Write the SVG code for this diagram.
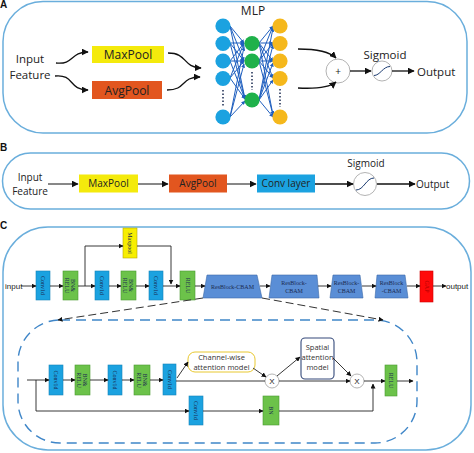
<svg xmlns="http://www.w3.org/2000/svg" width="474" height="453" viewBox="0 0 474 453">
<defs>
<marker id="ah" viewBox="0 0 10 10" refX="9" refY="5" markerWidth="7" markerHeight="7" markerUnits="userSpaceOnUse" orient="auto"><path d="M0,0 L10,5 L0,10 z" fill="#111"/></marker>
<marker id="as" viewBox="0 0 10 10" refX="9" refY="5" markerWidth="5" markerHeight="5" markerUnits="userSpaceOnUse" orient="auto"><path d="M0,0 L10,5 L0,10 z" fill="#111"/></marker>
<marker id="ab" viewBox="0 0 10 10" refX="9" refY="5" markerWidth="4" markerHeight="4" markerUnits="userSpaceOnUse" orient="auto"><path d="M0,0 L10,5 L0,10 z" fill="#1f5fbf"/></marker>
<style>
.panel{fill:#fff;stroke:#6aaedc;stroke-width:1.5}
.lbl{font-family:"Liberation Sans",Arial,sans-serif;font-weight:bold;font-size:10px;fill:#111}
.t{font-family:"Open Sans","Noto Sans",sans-serif;fill:#222}
.a12{font-size:12px}
.a10{font-size:10px}
.c{text-anchor:middle}
.yel{fill:#f4ea0c}
.org{fill:#e2561f}
.cyan{fill:#1ba2e0}
.arr{fill:none;stroke:#111;stroke-width:1.3;marker-end:url(#ah)}
.sarr{fill:none;stroke:#222;stroke-width:0.9;marker-end:url(#as)}
.sline{fill:none;stroke:#222;stroke-width:0.9}
.bl{fill:#1ba2e0;stroke:#1484b8;stroke-width:0.6}
.gr{fill:#6cc24a;stroke:#4a9a30;stroke-width:0.6}
.ye{fill:#f7ee00;stroke:#b8a800;stroke-width:0.6}
.rd{fill:#ff0a0a;stroke:#c00;stroke-width:0.6}
.trap{fill:#5a8ed6;stroke:#3d6aa8;stroke-width:0.6}
.st{font-family:"Liberation Serif","Times New Roman",serif;font-size:6px;fill:#1a2a50;text-anchor:middle}
.ss{font-family:"Liberation Sans",Arial,sans-serif;font-size:8px;fill:#222}
.nin{fill:#1ba2e0}
.ngr{fill:#1fb14a}
.nor{fill:#f5b81c}
.mlp{stroke:#1f5fbf;stroke-width:1;marker-end:url(#ab)}
.dots{stroke:#1a2a50;stroke-width:1.5;stroke-dasharray:1.5 2}
.circ{fill:#fff;stroke:#aaa;stroke-width:0.9}
.sig{fill:none;stroke:#1a3a70;stroke-width:1}
.attn{font-family:"Open Sans","Noto Sans",sans-serif;font-size:7.5px;fill:#333;text-anchor:middle}
</style>
</defs>

<!-- Panel A -->
<g id="panelA">
<rect class="panel" x="3" y="1.5" width="464" height="131.5" rx="40"/>
<text class="lbl" x="0" y="8">A</text>
</g>
<g id="A-input"><text class="t c" font-size="11.5" x="30" y="63">Input</text><text class="t c" font-size="11.5" x="30" y="79">Feature</text></g>
<g id="A-maxpool"><rect class="yel" x="92" y="46" width="72" height="17"/><text class="t a12 c" x="128" y="59">MaxPool</text></g>
<g id="A-avgpool"><rect class="org" x="92" y="81" width="70" height="18"/><text class="t a12 c" x="127" y="94.5">AvgPool</text></g>
<g id="A-mlp">
<text class="t a12 c" x="253" y="14.5">MLP</text>
<g>
<line class="mlp" x1="230" y1="26" x2="244" y2="43"/><line class="mlp" x1="230" y1="26" x2="244" y2="61"/><line class="mlp" x1="230" y1="26" x2="245" y2="99"/>
<line class="mlp" x1="230" y1="43" x2="244" y2="43"/><line class="mlp" x1="230" y1="43" x2="244" y2="61"/><line class="mlp" x1="230" y1="43" x2="245" y2="99"/>
<line class="mlp" x1="230" y1="61" x2="244" y2="43"/><line class="mlp" x1="230" y1="61" x2="244" y2="61"/><line class="mlp" x1="230" y1="61" x2="245" y2="99"/>
<line class="mlp" x1="230" y1="78" x2="244" y2="43"/><line class="mlp" x1="230" y1="78" x2="244" y2="61"/><line class="mlp" x1="230" y1="78" x2="245" y2="99"/>
<line class="mlp" x1="230" y1="117" x2="244" y2="47"/><line class="mlp" x1="230" y1="117" x2="244" y2="64"/><line class="mlp" x1="230" y1="117" x2="245" y2="101"/>
<line class="mlp" x1="259" y1="43" x2="273" y2="26"/><line class="mlp" x1="259" y1="43" x2="273" y2="43"/><line class="mlp" x1="259" y1="43" x2="273" y2="61"/><line class="mlp" x1="259" y1="43" x2="273" y2="78"/><line class="mlp" x1="259" y1="43" x2="273" y2="115"/>
<line class="mlp" x1="259" y1="61" x2="273" y2="26"/><line class="mlp" x1="259" y1="61" x2="273" y2="43"/><line class="mlp" x1="259" y1="61" x2="273" y2="61"/><line class="mlp" x1="259" y1="61" x2="273" y2="78"/><line class="mlp" x1="259" y1="61" x2="273" y2="115"/>
<line class="mlp" x1="259" y1="100" x2="273" y2="28"/><line class="mlp" x1="259" y1="100" x2="273" y2="45"/><line class="mlp" x1="259" y1="100" x2="273" y2="63"/><line class="mlp" x1="259" y1="100" x2="273" y2="80"/><line class="mlp" x1="259" y1="100" x2="273" y2="117"/>
</g>
<circle class="nin" cx="223" cy="26" r="7.6"/><circle class="nin" cx="223" cy="43.5" r="7.6"/><circle class="nin" cx="223" cy="61" r="7.6"/><circle class="nin" cx="223" cy="78.5" r="7.6"/><circle class="nin" cx="223" cy="117" r="7.6"/>
<line class="dots" x1="223" y1="90" x2="223" y2="107"/>
<circle class="ngr" cx="252" cy="43.5" r="7.6"/><circle class="ngr" cx="252" cy="61" r="7.6"/><circle class="ngr" cx="252" cy="100" r="7.6"/>
<line class="dots" x1="252" y1="72" x2="252" y2="90"/>
<circle class="nor" cx="280" cy="26" r="7.6"/><circle class="nor" cx="280" cy="43.5" r="7.6"/><circle class="nor" cx="280" cy="61" r="7.6"/><circle class="nor" cx="280" cy="78.5" r="7.6"/><circle class="nor" cx="280" cy="117" r="7.6"/>
<line class="dots" x1="280" y1="89" x2="280" y2="107"/>
</g>
<g id="A-plus"><circle class="circ" cx="338" cy="71" r="12"/><text class="t c" font-size="10" x="338" y="74.5">+</text></g>
<g id="A-sigmoid"><circle class="circ" cx="382" cy="71" r="10"/><path class="sig" d="M374,75.5 C380,75.5 383,66.5 390,66.5"/><text class="t c" font-size="11.5" x="385" y="59">Sigmoid</text></g>
<g id="A-output"><text class="t" font-size="11.5" x="417" y="75.5">Output</text></g>
<g id="A-connectors">
<path class="arr" d="M56,63 C74,65 70,52 88,52"/>
<path class="arr" d="M55,76 C75,74 68,90 88,90"/>
<path class="arr" d="M168,53 C188,53 182,67 201,68"/>
<path class="arr" d="M167,90 C187,90 180,77 200,77"/>
<path class="arr" d="M298,49 C318,49 330,52 336,58"/>
<path class="arr" d="M298,88 C318,89 330,87 336,82"/>
<path class="arr" d="M350,71 H371"/>
<path class="arr" d="M392,71 H414"/>
</g>

<!-- Panel B -->
<g id="panelB">
<rect class="panel" x="2.5" y="153" width="467" height="56" rx="28"/>
<text class="lbl" x="0" y="151">B</text>
</g>
<g id="B-input"><text class="t a10 c" x="30" y="181">Input</text><text class="t a10 c" x="30" y="195">Feature</text></g>
<g id="B-maxpool"><rect class="yel" x="79" y="174.5" width="59" height="18"/><text class="t a10 c" x="108.5" y="187">MaxPool</text></g>
<g id="B-avgpool"><rect class="org" x="169" y="174.5" width="58" height="18"/><text class="t a10 c" x="198" y="187">AvgPool</text></g>
<g id="B-conv"><rect class="cyan" x="257" y="174.5" width="58" height="18"/><text class="t a10 c" x="286" y="187">Conv layer</text></g>
<g id="B-sigmoid"><circle class="circ" cx="365" cy="184" r="11.5"/><path class="sig" d="M356,190 C364,190 366,178 374,178"/><text class="t a10 c" x="366" y="167">Sigmoid</text></g>
<g id="B-output"><text class="t a10" x="416" y="188">Output</text></g>
<g id="B-connectors">
<path class="arr" d="M48,184 H78" style="stroke-width:1"/>
<path class="arr" d="M138,184 H168" style="stroke-width:1"/>
<path class="arr" d="M227,184 H256" style="stroke-width:1"/>
<path class="arr" d="M315,184 H353" style="stroke-width:1.4"/>
<path class="arr" d="M377,184 H415" style="stroke-width:1.4"/>
</g>

<!-- Panel C -->
<g id="panelC">
<rect class="panel" x="3" y="227" width="468" height="223" rx="45"/>
<text class="lbl" x="0" y="229">C</text>
<rect x="18" y="320" width="399" height="123" rx="42" fill="none" stroke="#3f86c8" stroke-width="1.4" stroke-dasharray="10 6"/>
</g>
<g id="C-input"><text class="ss" x="5" y="288.5">input</text></g>
<g id="C-conv1"><rect class="bl" x="36" y="271" width="14" height="29"/><text class="st" transform="translate(43,285.5) rotate(90)" y="2">Conv1d</text></g>
<g id="C-bn1"><rect class="gr" x="63" y="271" width="15" height="29"/><text class="st" transform="translate(70.5,285.5) rotate(90)"><tspan x="0" y="-0.8">BN&amp;</tspan><tspan x="0" y="5.5">RELU</tspan></text></g>
<g id="C-conv2"><rect class="bl" x="95" y="271" width="14" height="29"/><text class="st" transform="translate(102,285.5) rotate(90)" y="2">Conv1d</text></g>
<g id="C-bn2"><rect class="gr" x="121" y="271" width="15" height="29"/><text class="st" transform="translate(128.5,285.5) rotate(90)"><tspan x="0" y="-0.8">BN&amp;</tspan><tspan x="0" y="5.5">RELU</tspan></text></g>
<g id="C-conv3"><rect class="bl" x="149" y="271" width="14" height="29"/><text class="st" transform="translate(156,285.5) rotate(90)" y="2">Conv1d</text></g>
<g id="C-maxpool"><rect class="ye" x="123" y="228" width="14" height="30"/><text class="st" transform="translate(130,243) rotate(90)" y="2">Maxpool</text></g>
<g id="C-relu"><rect class="gr" x="180" y="271" width="15" height="29"/><text class="st" transform="translate(187.5,285.5) rotate(90)" y="2">RELU</text></g>
<g id="C-res1"><polygon class="trap" points="207,275 257,275 262,298 203,298"/><text class="st" x="232.5" y="288.5">ResBlock-CBAM</text></g>
<g id="C-res2"><polygon class="trap" points="272,275 317,275 319,298 269,298"/><text class="st" x="294" y="285">ResBlock-</text><text class="st" x="294" y="293">CBAM</text></g>
<g id="C-res3"><polygon class="trap" points="333,275 360,275 363,298 330,298"/><text class="st" x="346.5" y="285">ResBlock-</text><text class="st" x="346.5" y="293">CBAM</text></g>
<g id="C-res4"><polygon class="trap" points="377,275 405,275 408,298 375,298"/><text class="st" x="391.5" y="285">ResBlock</text><text class="st" x="391.5" y="293">-CBAM</text></g>
<g id="C-gap"><rect class="rd" x="420" y="271" width="13" height="31"/><text class="st" transform="translate(426.5,286.5) rotate(90)" y="2" style="fill:#b00000">GAP</text></g>
<g id="C-output"><text class="ss" x="446" y="289">output</text></g>

<g id="C-inner-conv1"><rect class="bl" x="49" y="365" width="14" height="30"/><text class="st" transform="translate(56,380) rotate(90)" y="2">Conv1d</text></g>
<g id="C-inner-bn1"><rect class="gr" x="75" y="365" width="15" height="30"/><text class="st" transform="translate(82.5,380) rotate(90)"><tspan x="0" y="-0.8">BN&amp;</tspan><tspan x="0" y="5.5">RELU</tspan></text></g>
<g id="C-inner-conv2"><rect class="bl" x="108" y="365" width="14" height="30"/><text class="st" transform="translate(115,380) rotate(90)" y="2">Conv1d</text></g>
<g id="C-inner-bn2"><rect class="gr" x="134" y="365" width="16" height="30"/><text class="st" transform="translate(142,380) rotate(90)"><tspan x="0" y="-0.8">BN&amp;</tspan><tspan x="0" y="5.5">RELU</tspan></text></g>
<g id="C-inner-conv3"><rect class="bl" x="163" y="364" width="13" height="31"/><text class="st" transform="translate(169.5,379.5) rotate(90)" y="2">Conv1d</text></g>
<g id="C-inner-conv4"><rect class="bl" x="189" y="396" width="14" height="29"/><text class="st" transform="translate(196,410.5) rotate(90)" y="2">Conv1d</text></g>
<g id="C-inner-bn"><rect class="gr" x="263" y="396" width="16" height="29"/><text class="st" transform="translate(271,410.5) rotate(90)" y="2">BN</text></g>
<g id="C-channel"><rect x="188" y="352" width="67" height="20" rx="7" fill="#fff" stroke="#e8c830" stroke-width="1"/><text class="attn" x="221.5" y="360">Channel-wise</text><text class="attn" x="221.5" y="369.5">attention model</text></g>
<g id="C-x1"><circle class="circ" cx="272" cy="381" r="7"/><text class="ss" font-size="7" text-anchor="middle" x="272" y="383.5">X</text></g>
<g id="C-spatial"><rect x="301" y="338" width="33" height="41" rx="4" fill="#fff" stroke="#34497a" stroke-width="1.1"/><text class="attn" x="317.5" y="350">Spatial</text><text class="attn" x="317.5" y="360">attention</text><text class="attn" x="317.5" y="370">model</text></g>
<g id="C-x2"><circle class="circ" cx="357" cy="381" r="7"/><text class="ss" font-size="7" text-anchor="middle" x="357" y="383.5">X</text></g>
<g id="C-inner-relu"><rect class="gr" x="385" y="365" width="12" height="31"/><text class="st" transform="translate(391,380.5) rotate(90)" y="2">RELU</text></g>

<g id="C-connectors">
<path class="sarr" d="M21,286 H36"/>
<path class="sarr" d="M50,286 H63"/>
<path class="sarr" d="M78,286 H95"/>
<path class="sarr" d="M85,286 V246 H123"/>
<path class="sarr" d="M109,286 H121"/>
<path class="sarr" d="M136,286 H149"/>
<path class="sarr" d="M163,286 H180"/>
<path class="sarr" d="M137,246 H171 V284"/>
<path class="sarr" d="M195,286 H205"/>
<path class="sarr" d="M260,286 H270"/>
<path class="sarr" d="M318,286 H331"/>
<path class="sarr" d="M362,286 H376"/>
<path class="sarr" d="M407,286 H420"/>
<path class="sarr" d="M433,286 H446"/>
<path d="M203,298 L58,320" fill="none" stroke="#333" stroke-width="1" stroke-dasharray="8 4" marker-end="url(#as)"/>
<path d="M262,298 L383,320" fill="none" stroke="#333" stroke-width="1" stroke-dasharray="8 4" marker-end="url(#as)"/>
<path class="sarr" d="M27,380 H49"/>
<path class="sarr" d="M36,380 V411 H189"/>
<path class="sarr" d="M63,380 H75"/>
<path class="sarr" d="M90,380 H108"/>
<path class="sarr" d="M122,380 H134"/>
<path class="sarr" d="M150,380 H163"/>
<path class="sline" d="M176,381 H265"/>
<path class="sarr" d="M177,378 L188,362"/>
<path class="sarr" d="M253,368 L266,377"/>
<path class="sarr" d="M277,376 L300,357"/>
<path class="sarr" d="M279,381 H350"/>
<path class="sarr" d="M333,358 L351,376"/>
<path class="sarr" d="M364,381 H385"/>
<path class="sarr" d="M203,411 H263"/>
<path class="sarr" d="M279,411 H373 V384"/>
<path class="sarr" d="M397,381 H413"/>
</g>
</svg>
